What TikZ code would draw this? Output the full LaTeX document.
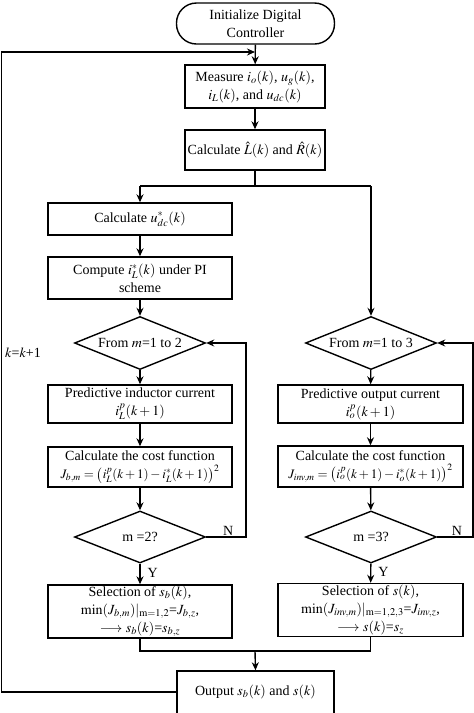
\documentclass[tikz,border=0pt]{standalone}
\usepackage{mathptmx}
\usepackage[no-math]{fontspec}
\setmainfont{Liberation Serif}
\usetikzlibrary{shapes.geometric,arrows.meta}
\begin{document}
\begin{tikzpicture}[x=1pt,y=-1pt,
  font=\fontsize{14}{18}\selectfont,
  line width=1.4pt,
  arr/.style={-{Stealth[length=8pt,width=7pt]}},
  boxL/.style={draw,rectangle,inner sep=0pt,align=center,minimum width=184pt},
  boxR/.style={draw,rectangle,inner sep=0pt,align=center,minimum width=185pt},
  box/.style={draw,rectangle,inner sep=0pt,align=center},
  dia/.style={draw,diamond,inner sep=0pt,aspect=2.5,minimum width=131pt,minimum height=53pt},
  lab/.style={inner sep=1pt},
  frm/.style={font=\fontsize{13}{17}\selectfont}]
\useasboundingbox (0,0) rectangle (474,713);
\node[box,rounded corners=20pt,minimum width=158pt,minimum height=41pt] (start) at (255.5,23.5) {Initialize Digital\\Controller};
\node[box,minimum width=140pt,minimum height=43pt] (meas) at (255,86.5) {Measure $i_o(k)$, $u_g(k)$,\\$i_L(k)$, and $u_{dc}(k)$};
\node[box,minimum width=140pt,minimum height=40pt] (calcL) at (255,150) {Calculate $\hat{L}(k)$ and $\hat{R}(k)$};
\coordinate (split) at (255,186);
\coordinate (splitL) at (140,186);
\coordinate (splitR) at (371,186);
\node[boxL,minimum height=32pt] (calcU) at (140,219) {Calculate $u^{*}_{dc}(k)$};
\node[boxL,minimum height=42pt] (comp) at (140,278) {Compute $i^{*}_{L}(k)$ under PI\\scheme};
\node[dia] (d1) at (140,343) {From $m$=1 to 2};
\node[boxL,minimum height=38pt] (predL) at (140,404) {Predictive inductor current\\$i^{p}_{L}(k+1)$};
\node[boxL,minimum height=40pt] (costL) at (140,467) {Calculate the cost function\\{\fontsize{13}{17}\selectfont$J_{b,m}=\bigl(i^{p}_{L}(k+1)-i^{*}_{L}(k+1)\bigr)^{2}$}};
\node[dia,minimum height=52pt] (d2) at (140,537) {m =2?};
\node[boxL,minimum height=53pt] (selL) at (140,611.5) {Selection of $s_b(k)$,\\$\mathrm{min}(J_{b,m})|_{\mathrm{m=1,2}}$=$J_{b,z}$,\\$\longrightarrow$ $s_b(k)$=$s_{b,z}$};
\node[dia] (d3) at (371,343) {From $m$=1 to 3};
\node[boxR,minimum height=38pt] (predO) at (370.5,404) {Predictive output current\\$i^{p}_{o}(k+1)$};
\node[boxR,minimum height=41pt] (costO) at (370.5,466.5) {Calculate the cost function\\{\fontsize{13}{17}\selectfont$J_{inv,m}=\bigl(i^{p}_{o}(k+1)-i^{*}_{o}(k+1)\bigr)^{2}$}};
\node[dia,minimum height=52pt] (d4) at (371,537) {m =3?};
\node[boxR,minimum height=53pt] (selR) at (370.5,610) {Selection of $s(k)$,\\$\mathrm{min}(J_{inv,m})|_{\mathrm{m=1,2,3}}$=$J_{inv,z}$,\\$\longrightarrow$ $s(k)$=$s_{z}$};
\node[box,minimum width=157pt,minimum height=45pt] (out) at (255.5,693.5) {};
\node[lab] (outtxt) at (255.5,692) {Output $s_b(k)$ and $s(k)$};
\coordinate (merge) at (255,651);
\coordinate (mergeL) at (140,651);
\coordinate (mergeR) at (370.5,651);
\coordinate (fb1) at (1.5,692);
\coordinate (fb2) at (1.5,52);
\coordinate (fbin) at (255,52);
\coordinate (n1a) at (246,537);
\coordinate (n1b) at (246,343);
\coordinate (n2a) at (473,537);
\coordinate (n2b) at (473,343);
% main flow
\draw[arr] (start) -- (meas);
\draw[arr] (meas) -- (calcL);
\draw (calcL) -- (split);
\draw (splitL) -- (splitR);
\draw[arr] (splitL) -- (calcU);
\draw[arr] (calcU) -- (comp);
\draw[arr] (comp) -- (d1);
\draw[arr] (d1) -- (predL);
\draw[arr] (predL) -- (costL);
\draw[arr] (costL) -- (d2);
\draw[arr] (d2) -- node[lab,right,pos=0.45,xshift=6pt] (y1) {Y} (selL);
\draw[arr] (splitR) -- (d3);
\draw[arr] (d3) -- (predO);
\draw[arr] (predO) -- (costO);
\draw[arr] (costO) -- (d4);
\draw[arr] (d4) -- node[lab,right,pos=0.45,xshift=6pt] (y2) {Y} (selR);
% loops
\draw[arr] (d2.east) -- node[lab,above,pos=0.55] (nl1) {N} (n1a) -- (n1b) -- (d1.east);
\draw[arr] (d4.east) -- node[lab,above,pos=0.55] (nl2) {N} (n2a) -- (n2b) -- (d3.east);
% merge
\draw (selL.south) -- (mergeL) -- (mergeR) -- (selR.south);
\draw[arr] (merge) -- (out.north);
% feedback
\draw[arr] (out.west |- fb1) -- (fb1) -- (fb2) -- (fbin);
\node[lab] (kk) at (23,353) {$k$=$k$+1};
\end{tikzpicture}
\end{document}
